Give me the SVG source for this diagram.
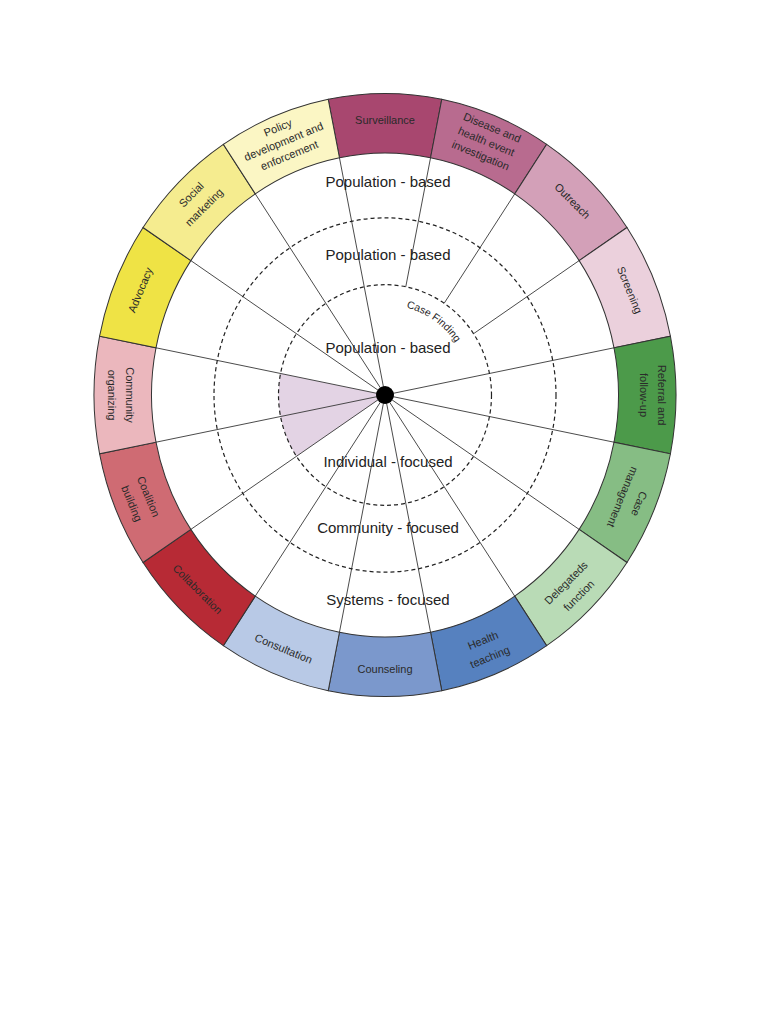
<svg xmlns="http://www.w3.org/2000/svg" width="768" height="1024" viewBox="0 0 768 1024">
<style>
.seg{stroke:#333;stroke-width:1;}
.spoke{stroke:#3a3a3a;stroke-width:0.9;fill:none;}
.dash{fill:none;stroke:#222;stroke-width:1.2;stroke-dasharray:4 3;}
.lbl{font-family:"Liberation Sans",Arial,sans-serif;font-size:11px;fill:#2a2a2a;text-anchor:middle;}
.band{font-family:"Liberation Sans",Arial,sans-serif;font-size:15px;fill:#222;text-anchor:middle;}
.cf{font-family:"Liberation Sans",Arial,sans-serif;font-size:10.5px;fill:#2a2a2a;}
</style>
<defs>
<path id="cfArc" d="M375.91,305.39 A87,90.1 0 0 1 468.63,370.17"/>
</defs>
<rect width="768" height="1024" fill="#ffffff"/>

<g id="wheel" transform="translate(385,395) scale(1,1.036)">
  <g id="ring">
    <path id="seg-surveillance" class="seg" fill="#a8476f" d="M-56.77,-285.41 A291,291 0 0 1 56.77,-285.41 L45.55,-229.01 A233.5,233.5 0 0 0 -45.55,-229.01 Z"/>
    <path id="seg-disease" class="seg" fill="#b86b8f" d="M56.77,-285.41 A291,291 0 0 1 161.67,-241.96 L129.73,-194.15 A233.5,233.5 0 0 0 45.55,-229.01 Z"/>
    <path id="seg-outreach" class="seg" fill="#d3a0b8" d="M161.67,-241.96 A291,291 0 0 1 241.96,-161.67 L194.15,-129.73 A233.5,233.5 0 0 0 129.73,-194.15 Z"/>
    <path id="seg-screening" class="seg" fill="#ebd0dc" d="M241.96,-161.67 A291,291 0 0 1 285.41,-56.77 L229.01,-45.55 A233.5,233.5 0 0 0 194.15,-129.73 Z"/>
    <path id="seg-referral" class="seg" fill="#4c9a4a" d="M285.41,-56.77 A291,291 0 0 1 285.41,56.77 L229.01,45.55 A233.5,233.5 0 0 0 229.01,-45.55 Z"/>
    <path id="seg-case" class="seg" fill="#86bd84" d="M285.41,56.77 A291,291 0 0 1 241.96,161.67 L194.15,129.73 A233.5,233.5 0 0 0 229.01,45.55 Z"/>
    <path id="seg-delegated" class="seg" fill="#b9dbb6" d="M241.96,161.67 A291,291 0 0 1 161.67,241.96 L129.73,194.15 A233.5,233.5 0 0 0 194.15,129.73 Z"/>
    <path id="seg-health" class="seg" fill="#5681bf" d="M161.67,241.96 A291,291 0 0 1 56.77,285.41 L45.55,229.01 A233.5,233.5 0 0 0 129.73,194.15 Z"/>
    <path id="seg-counseling" class="seg" fill="#7b98cc" d="M56.77,285.41 A291,291 0 0 1 -56.77,285.41 L-45.55,229.01 A233.5,233.5 0 0 0 45.55,229.01 Z"/>
    <path id="seg-consultation" class="seg" fill="#b8c9e6" d="M-56.77,285.41 A291,291 0 0 1 -161.67,241.96 L-129.73,194.15 A233.5,233.5 0 0 0 -45.55,229.01 Z"/>
    <path id="seg-collaboration" class="seg" fill="#b72a35" d="M-161.67,241.96 A291,291 0 0 1 -241.96,161.67 L-194.15,129.73 A233.5,233.5 0 0 0 -129.73,194.15 Z"/>
    <path id="seg-coalition" class="seg" fill="#cf6b73" d="M-241.96,161.67 A291,291 0 0 1 -285.41,56.77 L-229.01,45.55 A233.5,233.5 0 0 0 -194.15,129.73 Z"/>
    <path id="seg-community" class="seg" fill="#ebb7bd" d="M-285.41,56.77 A291,291 0 0 1 -285.41,-56.77 L-229.01,-45.55 A233.5,233.5 0 0 0 -229.01,45.55 Z"/>
    <path id="seg-advocacy" class="seg" fill="#efe345" d="M-285.41,-56.77 A291,291 0 0 1 -241.96,-161.67 L-194.15,-129.73 A233.5,233.5 0 0 0 -229.01,-45.55 Z"/>
    <path id="seg-social" class="seg" fill="#f5ec8f" d="M-241.96,-161.67 A291,291 0 0 1 -161.67,-241.96 L-129.73,-194.15 A233.5,233.5 0 0 0 -194.15,-129.73 Z"/>
    <path id="seg-policy" class="seg" fill="#fbf6c4" d="M-161.67,-241.96 A291,291 0 0 1 -56.77,-285.41 L-45.55,-229.01 A233.5,233.5 0 0 0 -129.73,-194.15 Z"/>
  </g>
  <path id="wedge" fill="#e3d3e4" d="M0,0 L-88.55,59.17 A106.5,106.5 0 0 1 -104.45,-20.78 Z"/>
  <g id="connectors">
    <line class="spoke" x1="0" y1="0" x2="-45.55" y2="-229.01"/>
    <line class="spoke" x1="20.78" y1="-104.45" x2="45.55" y2="-229.01"/>
    <line class="spoke" x1="59.17" y1="-88.55" x2="129.73" y2="-194.15"/>
    <line class="spoke" x1="88.55" y1="-59.17" x2="194.15" y2="-129.73"/>
    <line class="spoke" x1="0" y1="0" x2="229.01" y2="-45.55"/>
    <line class="spoke" x1="0" y1="0" x2="229.01" y2="45.55"/>
    <line class="spoke" x1="0" y1="0" x2="194.15" y2="129.73"/>
    <line class="spoke" x1="0" y1="0" x2="129.73" y2="194.15"/>
    <line class="spoke" x1="0" y1="0" x2="45.55" y2="229.01"/>
    <line class="spoke" x1="0" y1="0" x2="-45.55" y2="229.01"/>
    <line class="spoke" x1="0" y1="0" x2="-129.73" y2="194.15"/>
    <line class="spoke" x1="0" y1="0" x2="-194.15" y2="129.73"/>
    <line class="spoke" x1="0" y1="0" x2="-229.01" y2="45.55"/>
    <line class="spoke" x1="0" y1="0" x2="-229.01" y2="-45.55"/>
    <line class="spoke" x1="0" y1="0" x2="-194.15" y2="-129.73"/>
    <line class="spoke" x1="0" y1="0" x2="-129.73" y2="-194.15"/>
  </g>
  <circle id="dash-outer" class="dash" cx="0" cy="0" r="171"/>
  <circle id="dash-inner" class="dash" cx="0" cy="0" r="106.5"/>
</g>
<circle id="hub" cx="385" cy="395" r="9" fill="#000"/>

<g id="bands">
  <text class="band" x="388" y="187">Population - based</text>
  <text class="band" x="388" y="260">Population - based</text>
  <text class="band" x="388" y="353">Population - based</text>
  <text class="band" x="388" y="467">Individual - focused</text>
  <text class="band" x="388" y="533">Community - focused</text>
  <text class="band" x="388" y="605">Systems - focused</text>
  <text class="cf"><textPath href="#cfArc" startOffset="50%" text-anchor="middle">Case Finding</textPath></text>
</g>

<g id="labels">
  <g id="n-surveillance"><text class="lbl" transform="translate(385,120.5)"><tspan x="0" y="3.9">Surveillance</tspan></text></g>
  <g id="n-disease"><text class="lbl" transform="translate(486.4,141.4) rotate(22.5)"><tspan x="0" y="-11.1">Disease and</tspan><tspan x="0" y="3.9">health event</tspan><tspan x="0" y="18.9">investigation</tspan></text></g>
  <g id="n-outreach"><text class="lbl" transform="translate(572.4,200.9) rotate(45)"><tspan x="0" y="3.9">Outreach</tspan></text></g>
  <g id="n-screening"><text class="lbl" transform="translate(629.8,290) rotate(67.5)"><tspan x="0" y="3.9">Screening</tspan></text></g>
  <g id="n-referral"><text class="lbl" transform="translate(653,395) rotate(90)"><tspan x="0" y="-5.1">Referral and</tspan><tspan x="0" y="12.9">follow-up</tspan></text></g>
  <g id="n-case"><text class="lbl" transform="translate(631,500.5) rotate(112.5)"><tspan x="0" y="-5.1">Case</tspan><tspan x="0" y="12.9">management</tspan></text></g>
  <g id="n-delegated"><text class="lbl" transform="translate(572.4,589.1) rotate(-45)"><tspan x="0" y="-5.1">Delegateds</tspan><tspan x="0" y="12.9">function</tspan></text></g>
  <g id="n-health"><text class="lbl" transform="translate(486.4,648.6) rotate(-22.5)"><tspan x="0" y="-5.1">Health</tspan><tspan x="0" y="12.9">teaching</tspan></text></g>
  <g id="n-counseling"><text class="lbl" transform="translate(385,669.5)"><tspan x="0" y="3.9">Counseling</tspan></text></g>
  <g id="n-consultation"><text class="lbl" transform="translate(283.6,648.6) rotate(22.5)"><tspan x="0" y="3.9">Consultation</tspan></text></g>
  <g id="n-collaboration"><text class="lbl" transform="translate(197.6,589.1) rotate(45)"><tspan x="0" y="3.9">Collaboration</tspan></text></g>
  <g id="n-coalition"><text class="lbl" transform="translate(140.2,500) rotate(67.5)"><tspan x="0" y="-5.1">Coalition</tspan><tspan x="0" y="12.9">building</tspan></text></g>
  <g id="n-community"><text class="lbl" transform="translate(121,395) rotate(90)"><tspan x="0" y="-5.1">Community</tspan><tspan x="0" y="12.9">organizing</tspan></text></g>
  <g id="n-advocacy"><text class="lbl" transform="translate(140.2,290) rotate(-67.5)"><tspan x="0" y="3.9">Advocacy</tspan></text></g>
  <g id="n-social"><text class="lbl" transform="translate(197.6,200.9) rotate(-45)"><tspan x="0" y="-5.1">Social</tspan><tspan x="0" y="12.9">marketing</tspan></text></g>
  <g id="n-policy"><text class="lbl" transform="translate(283.6,141.4) rotate(-22.5)"><tspan x="0" y="-11.1">Policy</tspan><tspan x="0" y="3.9">development and</tspan><tspan x="0" y="18.9">enforcement</tspan></text></g>
</g>
</svg>
